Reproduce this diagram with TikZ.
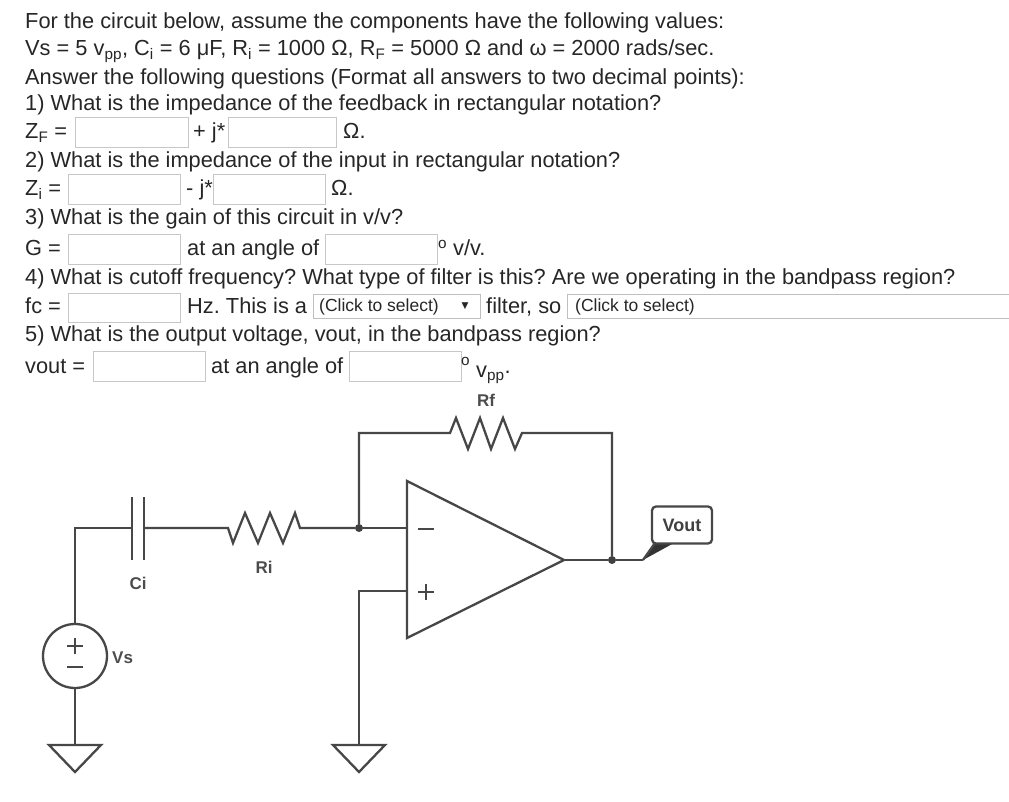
\documentclass[tikz,border=0pt]{standalone}
\usepackage{fontspec}
\setmainfont{Liberation Sans}
\newfontfamily\dv{DejaVu Sans}
\frenchspacing
\begin{document}
\begin{tikzpicture}[x=1pt,y=-1pt,
  txt/.style={anchor=base west,inner sep=0pt,text=black!85,font=\fontsize{21.8}{24}\selectfont},
  ansbox/.style={draw=black!22,line width=0.8pt},
  sel/.style={draw=black!25,line width=0.8pt},
  seltxt/.style={anchor=base west,inner sep=0pt,text=black!85,font=\fontsize{17.5}{20}\selectfont},
  wire/.style={draw=black!72,line width=2.3pt,line join=miter},
  lbl/.style={text=black!70,font=\fontsize{17}{19}\selectfont\bfseries,inner sep=0pt},
  dot/.style={circle,fill=black!75,inner sep=0pt,minimum size=8pt}]
\useasboundingbox (0,0) rectangle (1009,802);
% ---- text ----
\node[txt] (t1) at (25,29) {For the circuit below, assume the components have the following values:};
\node[txt] (t2) at (25,56) {Vs = 5 v\textsubscript{pp}, C\textsubscript{i} = 6 μF, R\textsubscript{i} = 1000 Ω, R\textsubscript{F} = 5000 Ω and ω = 2000 rads/sec.};
\node[txt] (t3) at (25,85) {Answer the following questions (Format all answers to two decimal points):};
\node[txt] (t4) at (25,111) {1) What is the impedance of the feedback in rectangular notation?};
\node[txt] (t5) at (25,139) {Z\textsubscript{F} =};
\draw[ansbox] (75,117) rectangle (188,147);
\node[txt] (t5b) at (193,139) {+ j*};
\draw[ansbox] (228,117) rectangle (336,147);
\node[txt] (t5c) at (343,139) {Ω.};
\node[txt] (t6) at (25,168) {2) What is the impedance of the input in rectangular notation?};
\node[txt] (t7) at (25,196) {Z\textsubscript{i} =};
\draw[ansbox] (68,174) rectangle (180,204);
\node[txt] (t7b) at (186,196) {- j*};
\draw[ansbox] (213,174) rectangle (325,204);
\node[txt] (t7c) at (331,196) {Ω.};
\node[txt] (t8) at (25,225) {3) What is the gain of this circuit in v/v?};
\node[txt] (t9) at (25,256) {G =};
\draw[ansbox] (68,234) rectangle (180,264);
\node[txt] (t9b) at (187,256) {at an angle of};
\draw[ansbox] (325,234) rectangle (437,264);
\node[txt] (t9c) at (438,256) {\textsuperscript{o} v/v.};
\node[txt] (t10) at (25,285) {4) What is cutoff frequency? What type of filter is this? Are we operating in the bandpass region?};
\node[txt] (t11) at (25,313) {fc =};
\draw[ansbox] (68,293) rectangle (180,322);
\node[txt] (t11b) at (187,313) {Hz. This is a};
\draw[sel] (313,294) rectangle (480,318);
\node[seltxt] (s1) at (319,312) {(Click to select)};
\node[anchor=center,inner sep=0pt,font=\dv\fontsize{9}{10}\selectfont,text=black!85] (s1a) at (465,306) {▼};
\node[txt] (t11c) at (486,313) {filter, so};
\draw[sel] (567,294) -- (1009,294) (567,294) -- (567,318) -- (1009,318);
\node[seltxt] (s2) at (575,312) {(Click to select)};
\node[txt] (t12) at (25,341) {5) What is the output voltage, vout, in the bandpass region?};
\node[txt] (t13) at (25,373) {vout =};
\draw[ansbox] (93,351) rectangle (205,381);
\node[txt] (t13b) at (211,373) {at an angle of};
\draw[ansbox] (349,351) rectangle (461,381);
\node[txt] (t13c) at (461,373) {\textsuperscript{o} \raisebox{-0.35ex}{v\textsubscript{pp}}.};
% ---- circuit ----
\coordinate (gl) at (75,745);
\coordinate (gr) at (359,745);
\coordinate (tl) at (75,528);
\node[dot] (jn) at (359,528) {};
\node[dot] (jo) at (612,560) {};
\node[circle,draw=black!72,line width=2.3pt,minimum width=64pt,minimum height=64pt,inner sep=0pt] (vs) at (75,656) {};
\draw[black!72,line width=2pt] (67,646) -- (83,646) (75,638) -- (75,654) (67,667) -- (83,667);
\node[lbl,anchor=west] (vsl) at (112,658) {Vs};
\draw[wire] (vs.north) -- (tl) -- (132,528);
\draw[wire] (132,497) -- (132,560) (144,497) -- (144,560);
\node[lbl] (cil) at (138,583) {Ci};
\draw[wire] (144,528) -- (228,528) -- (233,543) -- (245,513) -- (258,543) -- (270,513) -- (283,543) -- (295,513) -- (300,528) -- (jn);
\node[lbl] (ril) at (264,567) {Ri};
\draw[wire] (jn) -- (407,528);
\draw[wire] (jn) -- (359,433) -- (450,433) -- (456,418) -- (468,449) -- (480,418) -- (491,449) -- (503,418) -- (515,449) -- (522,433) -- (612,433) -- (jo);
\node[lbl] (rfl) at (486,400) {Rf};
\draw[wire] (407,481) -- (564,560) -- (407,638) -- cycle;
\draw[black!72,line width=2pt] (418,529) -- (434,529) (418,592) -- (434,592) (426,584) -- (426,600);
\draw[wire] (564,560) -- (jo) -- (643,560);
\draw[wire] (407,591) -- (359,591) -- (gr);
\draw[wire] (vs.south) -- (gl);
\draw[wire] (49,745) -- (101,745) -- (75,772) -- cycle;
\draw[wire] (333,745) -- (385,745) -- (359,772) -- cycle;
\fill[black!80] (643,560) -- (655,543) -- (674,543) -- cycle;
\draw[wire] (643,560) -- (655,543);
\node[draw=black!72,line width=2.3pt,rounded corners=4pt,minimum width=60pt,minimum height=37pt,inner sep=0pt,font=\fontsize{18}{20}\selectfont\bfseries,text=black!75] (vo) at (682,525) {Vout};
\end{tikzpicture}
\end{document}
